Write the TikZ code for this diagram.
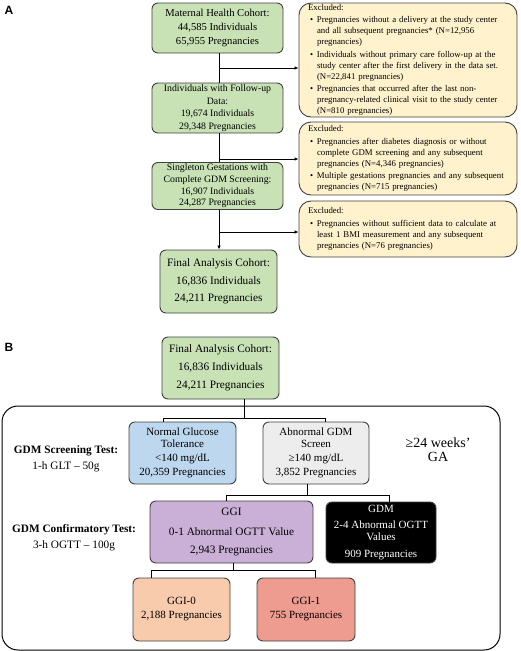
\documentclass[tikz,border=0pt]{standalone}
\usepackage{fontspec}
\setmainfont{Liberation Serif}
\newfontfamily\panelfont{Liberation Sans}
\usetikzlibrary{arrows.meta}
\usetikzlibrary{positioning}
\definecolor{boxgreen}{HTML}{C8E2B6}
\definecolor{exclyellow}{HTML}{FFF2CC}
\definecolor{normblue}{HTML}{BDD7EE}
\definecolor{abngray}{HTML}{EDEDED}
\definecolor{ggipurple}{HTML}{CAAFD6}
\definecolor{ggipeach}{HTML}{F8CBAD}
\definecolor{ggisalmon}{HTML}{EE9B90}
\tikzstyle{box}=[draw=black!75,line width=0.9pt,rounded corners=6pt,align=center,inner sep=0pt,font=\fontsize{10.6}{12.5}\selectfont]
\tikzstyle{greenbox}=[box,fill=boxgreen]
\tikzstyle{exclbox}=[draw=black!75,line width=0.9pt,rounded corners=12pt,fill=exclyellow,align=left,text width=200pt,inner xsep=9pt,inner ysep=0pt,font=\fontsize{8.8}{11}\selectfont]
\tikzstyle{edge} = [draw,line width=0.8pt,-{Latex[length=4pt,width=3.5pt]}]
\tikzstyle{link} = [draw,line width=0.8pt]
\tikzstyle{sidelabel} = [align=center,font=\fontsize{11.3}{16}\selectfont]
\tikzstyle{panel} = [font=\panelfont\bfseries\fontsize{12}{12}\selectfont]
\newcommand{\bul}{\hspace*{2pt}\makebox[7pt][l]{\textbullet}}
\newcommand{\ind}{\hspace*{9pt}}
\begin{document}
\begin{tikzpicture}[x=1pt,y=-1pt]
\useasboundingbox (0,0) rectangle (520,651);

    % Panel A: the cohort boxes
    \node[panel] (pA) at (9,10) {A};
    \node[greenbox,minimum width=131,minimum height=50,font=\fontsize{10.6}{14}\selectfont] (A1) at (217.5,28)
        {Maternal Health Cohort:\\44,585 Individuals\\65,955 Pregnancies};
    \node[greenbox,minimum width=131,minimum height=50,font=\fontsize{9.8}{12.5}\selectfont] (A2) at (217.5,108)
        {Individuals with Follow-up\\Data:\\19,674 Individuals\\29,348 Pregnancies};
    \node[greenbox,minimum width=131,minimum height=47,font=\fontsize{9.8}{11.6}\selectfont] (A3) at (217.5,186)
        {Singleton Gestations with\\Complete GDM Screening:\\16,907 Individuals\\24,287 Pregnancies};
    \node[greenbox,minimum width=117,minimum height=63,font=\fontsize{11.3}{17.5}\selectfont] (A4) at (218.5,281.5)
        {Final Analysis Cohort:\\16,836 Individuals\\24,211 Pregnancies};

    % the excluded boxes
    \node[exclbox,minimum height=114] (E1) at (408,60)
        {Excluded:\\[1.5pt]
        \bul Pregnancies without a delivery at the study center\\
        \ind and all subsequent pregnancies* (N=12,956\\
        \ind pregnancies)\\[1.5pt]
        \bul Individuals without primary care follow-up at the\\
        \ind study center after the first delivery in the data set.\\
        \ind (N=22,841 pregnancies)\\[1.5pt]
        \bul Pregnancies that occurred after the last non-\\
        \ind pregnancy-related clinical visit to the study center\\
        \ind (N=810 pregnancies)};
    \node[exclbox,minimum height=73] (E2) at (408,158.5)
        {Excluded:\\[1.5pt]
        \bul Pregnancies after diabetes diagnosis or without\\
        \ind complete GDM screening and any subsequent\\
        \ind pregnancies (N=4,346 pregnancies)\\[1.5pt]
        \bul Multiple gestations pregnancies and any subsequent\\
        \ind pregnancies (N=715 pregnancies)};
    \node[exclbox,minimum height=56] (E3) at (408,229)
        {Excluded:\\[1.5pt]
        \bul Pregnancies without sufficient data to calculate at\\
        \ind least 1 BMI measurement and any subsequent\\
        \ind pregnancies (N=76 pregnancies)};

    % Connect the boxes
    \foreach \source/\dest in {A1/A2, A2/A3}
        \path[link] (\source.south -| 219,0) -- (\dest.north -| 219,0);
    \path[edge] (A3.south -| 219,0) -- (A4.north -| 219,0);
    \foreach \name/\ypos/\dest in {b1/68/E1, b2/159/E2, b3/232/E3}
    {
        \coordinate (\name) at (219,\ypos);
        \path[edge] (\name) -- (\name -| \dest.west);
    }

    % Panel B: the glucose tests
    \node[panel] (pB) at (9,347) {B};
    \node[draw=black,line width=1pt,rounded corners=16pt,minimum width=498,minimum height=244] (frame) at (251,528) {};
    \node[greenbox,minimum width=117,minimum height=62,font=\fontsize{11.3}{18}\selectfont] (B0) at (220.5,368)
        {Final Analysis Cohort:\\16,836 Individuals\\24,211 Pregnancies};
    \node[box,fill=normblue,minimum width=107,minimum height=62,font=\fontsize{11}{12.5}\selectfont] (N1) at (182.5,453)
        {Normal Glucose\\Tolerance\\[1.5pt]<140 mg/dL\\[1.5pt]20,359 Pregnancies};
    \node[box,fill=abngray,minimum width=106,minimum height=62,font=\fontsize{11}{12.5}\selectfont] (N2) at (316,453)
        {Abnormal GDM\\Screen\\[1.5pt]≥140 mg/dL\\[1.5pt]3,852 Pregnancies};
    \node[box,fill=ggipurple,minimum width=163,minimum height=62,font=\fontsize{11.3}{18}\selectfont] (G1) at (231.5,532)
        {GGI\\[2pt]0-1 Abnormal OGTT Value\\2,943 Pregnancies};
    \node[box,fill=black,text=white,minimum width=110,minimum height=61,font=\fontsize{11}{12.5}\selectfont] (G2) at (381,532.5)
        {GDM\\[3pt]2-4 Abnormal OGTT\\Values\\[4pt]909 Pregnancies};
    \node[box,fill=ggipeach,minimum width=97,minimum height=63,font=\fontsize{11}{14}\selectfont] (G3) at (181.5,609.5)
        {GGI-0\\2,188 Pregnancies};
    \node[box,fill=ggisalmon,minimum width=98,minimum height=63,font=\fontsize{11}{14}\selectfont] (G4) at (306,609.5)
        {GGI-1\\755 Pregnancies};

    % side labels
    \node[sidelabel] (L1) at (66,459) {\textbf{GDM Screening Test:}\\1-h GLT -- 50g};
    \node[sidelabel] (L2) at (74,538) {\textbf{GDM Confirmatory Test:}\\3-h OGTT -- 100g};
    \node[align=center,font=\fontsize{14}{14}\selectfont] (L3) at (438,450) {≥24 weeks’\\GA};

    % tree connectors
    \foreach \top/\ypos/\xl/\xm/\xr/\left/\right in {B0/418/163/244/325/N1/N2, N2/495/226/307/389/G1/G2, G1/570/151/233/315/G3/G4}
    {
        \coordinate (m) at (\xm,\ypos);
        \coordinate (l) at (\xl,\ypos);
        \coordinate (r) at (\xr,\ypos);
        \path[link] (\top.south -| m) -- (m);
        \path[link] (l |- \left.north) -- (l) -- (r) -- (r |- \right.north);
    }

\end{tikzpicture}
\end{document}
